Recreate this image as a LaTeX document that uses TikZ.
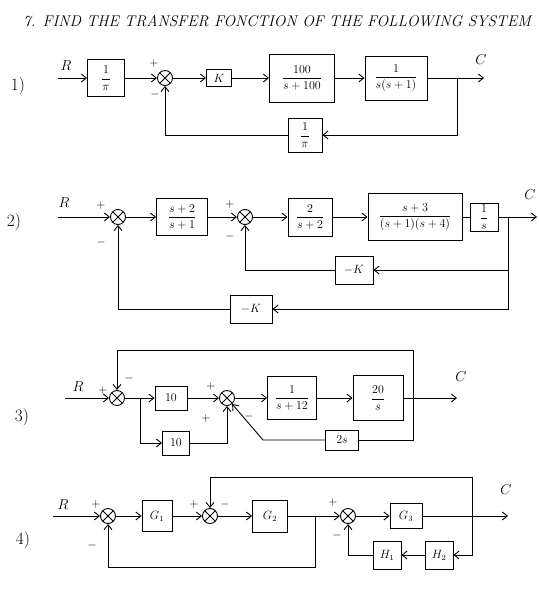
\documentclass[tikz,border=0pt]{standalone}
\usepackage{amsmath}
\usepackage{tikz}
\usetikzlibrary{arrows.meta,positioning,calc}
\tikzset{
  blk/.style={draw, line width=0.9pt, minimum width=28pt, minimum height=26pt,
    inner sep=1pt, align=center, font=\large},
  sumx/.style={draw, circle, line width=0.9pt, minimum size=15pt, inner sep=0pt,
    path picture={\draw[line width=0.8pt]
      (path picture bounding box.north west) -- (path picture bounding box.south east)
      (path picture bounding box.north east) -- (path picture bounding box.south west);}},
  %% signal lines
  sig/.style={-{Straight Barb[length=5pt,width=8pt]}, line width=0.9pt},
  wire/.style={line width=0.9pt},
  %% signs and labels
  sgn/.style={font=\large, inner sep=1pt},
  lbl/.style={font=\Large, inner sep=1pt},
  num/.style={font=\LARGE, inner sep=1pt},
}

\begin{document}
\begin{tikzpicture}[x=1pt, y=-1pt]
\useasboundingbox (0,0) rectangle (538,601);

%% Title
\node[font=\fontsize{15.5}{17}\selectfont\itshape] (title) at (277,21)
  {7. FIND THE TRANSFER FONCTION OF THE FOLLOWING SYSTEM};

%% ---------- 1) ----------
\node[num] (n1) at (18,86) {1)};
\coordinate (in1) at (58,78);
\node[lbl] (R1) at (66,66) {$R$};
\node[blk, minimum width=37pt, minimum height=37pt] (bPi) at (106,78) {$\dfrac{1}{\pi}$};
\node[sumx] (s11) at (165,78) {};
\node[sgn] (p11) at (154,64) {$+$};
\node[sgn] (m11) at (155,95) {$-$};
\node[blk, minimum width=25pt, minimum height=17pt] (bK) at (219,78) {$K$};
\node[blk, minimum width=65pt, minimum height=48pt] (b100) at (302,78) {$\dfrac{100}{s+100}$};
\node[blk, minimum width=62pt, minimum height=44pt] (bGs) at (396,78) {$\dfrac{1}{s(s+1)}$};
\coordinate (br1) at (457,78);
\coordinate (out1) at (484,78);
\node[lbl] (C1) at (481,60) {$C$};
\node[blk, minimum width=34pt, minimum height=34pt] (bPiF) at (305,135) {$\dfrac{1}{\pi}$};

\draw[sig] (in1) -- (bPi);
\draw[sig] (bPi) -- (s11);
\draw[sig] (s11) -- (bK);
\draw[sig] (bK) -- (b100);
\draw[sig] (b100) -- (bGs);
\draw[sig] (bGs) -- (out1);
\draw[sig] (br1) |- (bPiF);
\draw[sig] (bPiF) -| (s11);

%% ---------- 2) ----------
\node[num] (n2) at (14,222) {2)};
\coordinate (in2) at (58,217);
\node[lbl] (R2) at (64,203) {$R$};
\node[sumx] (s21) at (118,217) {};
\node[sgn] (p21) at (101,206) {$+$};
\node[sgn] (m21) at (101,243) {$-$};
\node[blk, minimum width=51pt, minimum height=37pt] (bA) at (182,217) {$\dfrac{s+2}{s+1}$};
\node[sumx] (s22) at (245,217) {};
\node[sgn] (p22) at (230,205) {$+$};
\node[sgn] (m22) at (230,237) {$-$};
\node[blk, minimum width=44pt, minimum height=38pt] (bB) at (310,217) {$\dfrac{2}{s+2}$};
\node[blk, minimum width=94pt, minimum height=47pt] (bC) at (415,217) {$\dfrac{s+3}{(s+1)(s+4)}$};
\node[blk, minimum width=28pt, minimum height=28pt] (bD) at (484,217) {$\dfrac{1}{s}$};
\coordinate (br2) at (508,217);
\coordinate (out2) at (537,217);
\node[lbl] (C2) at (530,195) {$C$};
\node[blk, minimum width=38pt, minimum height=28pt] (bK1) at (354,270) {$-K$};
\node[blk, minimum width=42pt, minimum height=28pt] (bK2) at (251,309) {$-K$};

\draw[sig] (in2) -- (s21);
\draw[sig] (s21) -- (bA);
\draw[sig] (bA) -- (s22);
\draw[sig] (s22) -- (bB);
\draw[sig] (bB) -- (bC);
\draw[wire] (bC) -- (bD);
\draw[sig] (bD) -- (out2);
\draw[sig] (br2) |- (bK1);
\draw[sig] (bK1) -| (s22);
\draw[sig] (br2) |- (bK2);
\draw[sig] (bK2) -| (s21);

%% ---------- 3) ----------
\node[num] (n3) at (22,417) {3)};
\coordinate (in3) at (65,398);
\node[lbl] (R3) at (78,387) {$R$};
\node[sumx] (s31) at (117,398) {};
\node[sgn] (p31) at (103,390) {$+$};
\node[sgn] (m31) at (129,378) {$-$};
\coordinate (br31) at (140,398);
\node[blk, minimum width=32pt, minimum height=24pt] (b10a) at (171,398) {$10$};
\node[blk, minimum width=27pt, minimum height=24pt] (b10b) at (176,443) {$10$};
\node[sumx] (s32) at (227,398) {};
\node[sgn] (p32) at (211,386) {$+$};
\node[sgn] (p33) at (206,418) {$+$};
\node[sgn] (m32) at (249,416) {$-$};
\node[blk, minimum width=49pt, minimum height=43pt] (bE) at (292,398) {$\dfrac{1}{s+12}$};
\node[blk, minimum width=50pt, minimum height=45pt] (bF) at (378,398) {$\dfrac{20}{s}$};
\coordinate (br32) at (413,398);
\coordinate (out3) at (457,398);
\node[lbl] (C3) at (461,377) {$C$};
\coordinate (top3) at (413,350);
\node[blk, minimum width=33pt, minimum height=20pt] (b2s) at (342,440) {$2s$};
\coordinate (k3) at (263,440);

\draw[sig] (in3) -- (s31);
\draw[wire] (s31) -- (br31);
\draw[sig] (br31) -- (b10a);
\draw[sig] (br31) |- (b10b);
\draw[sig] (b10a) -- (s32);
\draw[sig] (b10b) -| (s32);
\draw[sig] (s32) -- (bE);
\draw[sig] (bE) -- (bF);
\draw[sig] (bF) -- (out3);
\draw[sig] (br32) -- (top3) -| (s31);
\draw[wire] (br32) |- (b2s);
\draw[sig] (b2s) -- (k3) -- (s32);

%% ---------- 4) ----------
\node[num] (n4) at (23,540) {4)};
\coordinate (in4) at (53,516);
\node[lbl] (R4) at (63,505) {$R$};
\node[sumx] (s41) at (108,516) {};
\node[sgn] (p41) at (96,504) {$+$};
\node[sgn] (m41) at (92,545) {$-$};
\node[blk, minimum width=30pt, minimum height=31pt] (bG1) at (157,516) {$G_1$};
\node[sumx] (s42) at (210,516) {};
\node[sgn] (p42) at (194,504) {$+$};
\node[sgn] (m42) at (225,504) {$-$};
\node[blk, minimum width=35pt, minimum height=32pt] (bG2) at (270,516) {$G_2$};
\coordinate (br41) at (315,516);
\coordinate (bot4) at (315,567);
\node[sumx] (s43) at (348,516) {};
\node[sgn] (p43) at (333,502) {$+$};
\node[sgn] (m43) at (337,535) {$-$};
\node[blk, minimum width=32pt, minimum height=25pt] (bG3) at (406,516) {$G_3$};
\coordinate (br42) at (472,516);
\coordinate (out4) at (508,516);
\node[lbl] (C4) at (506,490) {$C$};
\coordinate (top4) at (472,477);
\node[blk, minimum width=28pt, minimum height=28pt] (bH2) at (439,555) {$H_2$};
\node[blk, minimum width=28pt, minimum height=28pt] (bH1) at (387,555) {$H_1$};

\draw[sig] (in4) -- (s41);
\draw[sig] (s41) -- (bG1);
\draw[sig] (bG1) -- (s42);
\draw[sig] (s42) -- (bG2);
\draw[sig] (bG2) -- (s43);
\draw[sig] (s43) -- (bG3);
\draw[sig] (bG3) -- (out4);
\draw[sig] (br42) -- (top4) -| (s42);
\draw[sig] (br42) |- (bH2);
\draw[sig] (bH2) -- (bH1);
\draw[sig] (bH1) -| (s43);
\draw[sig] (br41) -- (bot4) -| (s41);

\end{tikzpicture}
\end{document}
